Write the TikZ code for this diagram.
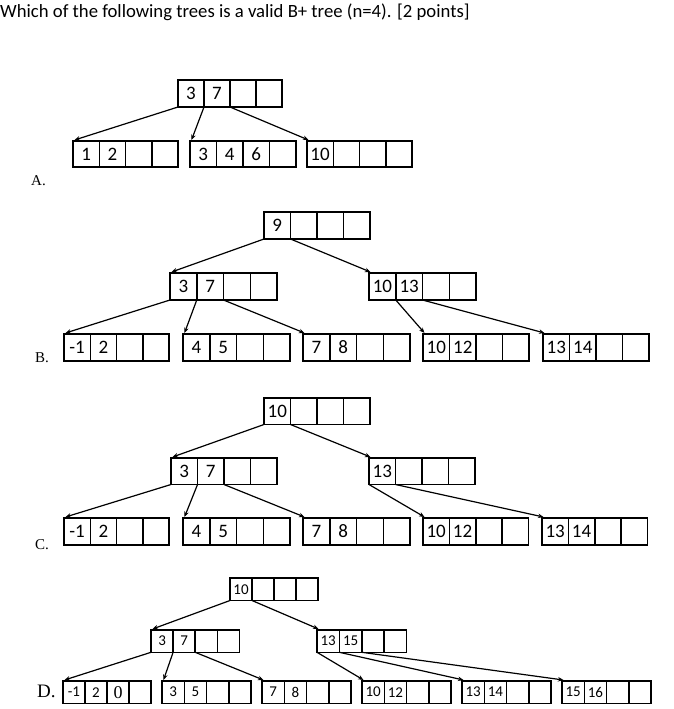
\documentclass[tikz,border=0pt]{standalone}
\usepackage{fontspec}
\setmainfont{Carlito}
\newfontfamily\tms{Liberation Serif}
\usetikzlibrary{arrows.meta}
\tikzset{
  cell/.style={draw, line width=1.5pt, inner sep=0pt, outer sep=0pt, anchor=north west,
    font=\fontsize{19}{19}\selectfont},
  edge/.style={line width=1.2pt, -{Stealth[length=5.5pt,width=4.5pt]}},
  lbl/.style={font=\tms\fontsize{15}{15}\selectfont, anchor=base west, inner sep=0pt},
  ttl/.style={font=\fontsize{18.7}{18.7}\selectfont, anchor=base west, inner sep=0pt},
}
% name, x, y, cell width, cell height, four entries
\newcommand\bn[9]{%
  \node[cell,minimum width=#4pt,minimum height=#5pt] (#1-1) at (#2,#3) {#6};
  \node[cell,minimum width=#4pt,minimum height=#5pt] (#1-2) at (#1-1.north east) {#7};
  \node[cell,minimum width=#4pt,minimum height=#5pt] (#1-3) at (#1-2.north east) {#8};
  \node[cell,minimum width=#4pt,minimum height=#5pt] (#1-4) at (#1-3.north east) {#9};
}
\newcommand\ed[2]{\draw[edge] (#1.south west) -- ([xshift=1.5pt,yshift=1pt]#2-1.north west);}
\begin{document}
\begin{tikzpicture}[x=1pt,y=-1pt]
\useasboundingbox (0,0) rectangle (673,709);
\node[ttl] (title) at (0,18) {Which of the following trees is a valid B+ tree (n=4). [2 points]};

% ---------- A ----------
\node[lbl] (labA) at (31,185) {A.};
\bn{ar}{178}{80}{26}{27}{3}{7}{}{}
\bn{al1}{73}{141}{26.25}{26}{1}{2}{}{}
\bn{al2}{190}{141}{26.5}{26}{3}{4}{6}{}
\bn{al3}{307}{141}{26.25}{26}{10}{}{}{}
\ed{ar-1}{al1}
\ed{ar-2}{al2}
\ed{ar-3}{al3}

% ---------- B ----------
\node[lbl] (labB) at (35,362) {B.};
\bn{br}{264}{212}{26.5}{27}{9}{}{}{}
\bn{bm1}{170}{273}{26.75}{27}{3}{7}{}{}
\bn{bm2}{369}{273}{26.75}{27}{10}{13}{}{}
\bn{bl1}{64}{334}{26.25}{27}{-1}{2}{}{}
\bn{bl2}{183}{334}{26.75}{27}{4}{5}{}{}
\bn{bl3}{303}{334}{26.75}{27}{7}{8}{}{}
\bn{bl4}{423}{334}{26.5}{27}{10}{12}{}{}
\bn{bl5}{543}{334}{26.5}{27}{13}{14}{}{}
\ed{br-1}{bm1}
\ed{br-2}{bm2}
\ed{bm1-1}{bl1}
\ed{bm1-2}{bl2}
\ed{bm1-3}{bl3}
\ed{bm2-2}{bl4}
\ed{bm2-3}{bl5}

% ---------- C ----------
\node[lbl] (labC) at (35,549) {C.};
\bn{cr}{264}{398}{26.5}{26.5}{10}{}{}{}
\bn{cm1}{171}{458}{26.5}{26.5}{3}{7}{}{}
\bn{cm2}{369}{458}{26.5}{26.5}{13}{}{}{}
\bn{cl1}{64}{518}{26.25}{27}{-1}{2}{}{}
\bn{cl2}{183}{518}{26.75}{27}{4}{5}{}{}
\bn{cl3}{303}{518}{26.75}{27}{7}{8}{}{}
\bn{cl4}{423}{518}{26.4}{27}{10}{12}{}{}
\bn{cl5}{542}{518}{26.4}{27}{13}{14}{}{}
\ed{cr-1}{cm1}
\ed{cr-2}{cm2}
\ed{cm1-1}{cl1}
\ed{cm1-2}{cl2}
\ed{cm1-3}{cl3}
\ed{cm2-1}{cl4}
\ed{cm2-2}{cl5}

% ---------- D ----------
\node[lbl, font=\tms\fontsize{19}{19}\selectfont] (labD) at (37,697) {D.};
\begin{scope}[cell/.append style={font=\fontsize{15}{15}\selectfont}]
\bn{dr}{230}{578}{22}{22.5}{10}{}{}{}
\bn{dm1}{151}{630}{22.1}{22.3}{3}{7}{}{}
\bn{dm2}{317}{630}{22.4}{22.3}{13}{15}{}{}
\bn{dl1}{63}{681}{22}{22.3}{-1}{2}{\tms\fontsize{18}{18}\selectfont 0}{}
\bn{dl2}{162}{681}{22.25}{22.3}{3}{5}{}{}
\bn{dl3}{262}{681}{22.25}{22.3}{7}{8}{}{}
\bn{dl4}{362}{681}{22.25}{22.3}{10}{12}{}{}
\bn{dl5}{462}{681}{22.25}{22.3}{13}{14}{}{}
\bn{dl6}{562}{681}{22.25}{22.3}{15}{16}{}{}
\end{scope}
\ed{dr-1}{dm1}
\ed{dr-2}{dm2}
\ed{dm1-1}{dl1}
\ed{dm1-2}{dl2}
\ed{dm1-3}{dl3}
\ed{dm2-1}{dl4}
\ed{dm2-2}{dl5}
\ed{dm2-3}{dl6}
\end{tikzpicture}
\end{document}
